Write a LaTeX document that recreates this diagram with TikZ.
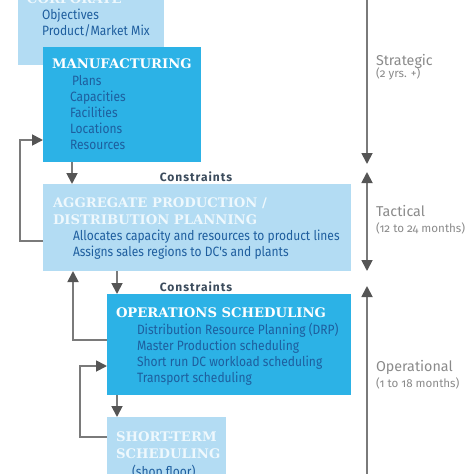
\documentclass[tikz,border=0pt]{standalone}
\usepackage{fontspec}
\setmainfont{Fira Sans}
\newfontfamily\bodyfont[FakeStretch=0.89]{Fira Sans}
\newfontfamily\oldfont[Numbers=OldStyle]{Fira Sans}
\newfontfamily\spacedfont[LetterSpace=8]{Fira Sans}
\newfontfamily\titlefont{DejaVu Serif}
\usepackage{tikz}
\usetikzlibrary{calc}
\usetikzlibrary{arrows.meta}
\definecolor{lightblue}{HTML}{B3DCF3}
\definecolor{midblue}{HTML}{2CB2E6}
\definecolor{itemblue}{HTML}{1E5E9E}
\definecolor{paletitle}{HTML}{EEF8FD}
\definecolor{linegray}{HTML}{7A7A7A}
\definecolor{tipgray}{HTML}{555555}
\definecolor{labelgray}{HTML}{8A8A8A}
\definecolor{slate}{HTML}{3B4B5C}
\tikzstyle{every node}=[inner sep=0pt, outer sep=0pt]
\tikzstyle{lightbox}=[fill=lightblue, anchor=north west]
\tikzstyle{darkbox}=[fill=midblue, anchor=north west]
\tikzstyle{boxtitle}=[anchor=base west, align=left, font=\titlefont\bfseries\fontsize{13.2}{17}\selectfont]
\tikzstyle{items}=[anchor=base west, align=left, text=itemblue, font=\bodyfont\fontsize{13.5}{16}\selectfont]
\tikzstyle{constraint}=[anchor=base, text=slate, font=\spacedfont\bfseries\fontsize{12}{14}\selectfont]
\tikzstyle{period}=[anchor=base west, text=labelgray, font=\fontsize{14.3}{16}\selectfont]
\tikzstyle{spantext}=[anchor=base west, text=labelgray, font=\oldfont\fontsize{11.6}{13}\selectfont]
\tikzstyle{flow}=[draw=linegray, line width=1.8pt, ->]

\begin{document}
\begin{tikzpicture}[x=1pt, y=-1pt, >={Triangle[length=11pt, width=11pt, color=tipgray]}]
  \useasboundingbox (0,0) rectangle (474,474);
  % boxes
  \node [lightbox, minimum width=146pt, minimum height=105pt] (corp) at (18,-40) {};
  \node [darkbox, minimum width=158pt, minimum height=115pt] (manu) at (43,47) {};
  \node [lightbox, minimum width=308pt, minimum height=87pt] (aggr) at (43,184) {};
  \node [darkbox, minimum width=244pt, minimum height=101pt] (ops) at (107,294) {};
  \node [lightbox, minimum width=119pt, minimum height=70pt] (short) at (107,417) {};
  % box texts (multi-line nodes sit on their last baseline)
  \node [boxtitle, text=paletitle] (corptitle) at (27,3) {CORPORATE};
  \node [items] (corpitems) at (42,35) {Objectives\\Product/Market Mix};
  \node [boxtitle, text=white] (manutitle) at (52,68) {MANUFACTURING};
  \node [items] (manuitems) at (70,149) {\hspace{2pt}Plans\\Capacities\\Facilities\\Locations\\Resources};
  \node [boxtitle, text=paletitle] (aggrtitle) at (53,224) {AGGREGATE PRODUCTION /\\DISTRIBUTION PLANNING};
  \node [items] (aggritems) at (73,256) {Allocates capacity and resources to product lines\\Assigns sales regions to DC's and plants};
  \node [boxtitle, text=white] (opstitle) at (116,317) {OPERATIONS SCHEDULING};
  \node [items] (opsitems) at (137,382) {Distribution Resource Planning (DRP)\\Master Production scheduling\\Short run DC workload scheduling\\Transport scheduling};
  \node [boxtitle, text=paletitle] (shorttitle) at (116,458) {SHORT-TERM\\SCHEDULING};
  \node [items] (shortitems) at (132,476) {(shop floor)};
  \node [constraint] (constrA) at (196,181) {Constraints};
  \node [constraint] (constrB) at (196,291) {Constraints};
  % flow between levels
  \coordinate (downA) at (72,0);
  \coordinate (downB) at (117,0);
  \coordinate (loopAbot) at (20,241);
  \coordinate (loopAtop) at (20,140);
  \coordinate (opsback) at (73,340);
  \coordinate (loopCbot) at (80,437);
  \coordinate (loopCtop) at (80,366);
  \draw [flow] (downA |- manu.south) -- (downA |- aggr.north);
  \draw [flow] (aggr.west |- loopAbot) -- (loopAbot) -- (loopAtop) -- (manu.west |- loopAtop);
  \draw [flow] (downB |- aggr.south) -- (downB |- ops.north);
  \draw [flow] (ops.west |- opsback) -- (opsback) -- (opsback |- aggr.south);
  \draw [flow] (downB |- ops.south) -- (downB |- short.north);
  \draw [flow] (short.west |- loopCbot) -- (loopCbot) -- (loopCtop) -- (ops.west |- loopCtop);
  % time horizon
  \coordinate (tlTop) at (367,-2);
  \coordinate (tlStrat) at (367,164);
  \coordinate (tlTacA) at (367,172);
  \coordinate (tlTacB) at (367,271);
  \coordinate (tlOper) at (367,286);
  \coordinate (tlBot) at (367,476);
  \draw [flow] (tlTop) -- (tlStrat);
  \draw [flow, <->] (tlTacA) -- (tlTacB);
  \draw [flow] (tlBot) -- (tlOper);
  \node [period] (strat) at (376,65) {Strategic};
  \node [spantext] (stratspan) at (376,77) {(2 yrs. +)};
  \node [period] (tact) at (376,216) {Tactical};
  \node [spantext] (tactspan) at (376,232) {(12 to 24 months)};
  \node [period] (oper) at (376,371) {Operational};
  \node [spantext] (operspan) at (376,387) {(1 to 18 months)};
\end{tikzpicture}
\end{document}
